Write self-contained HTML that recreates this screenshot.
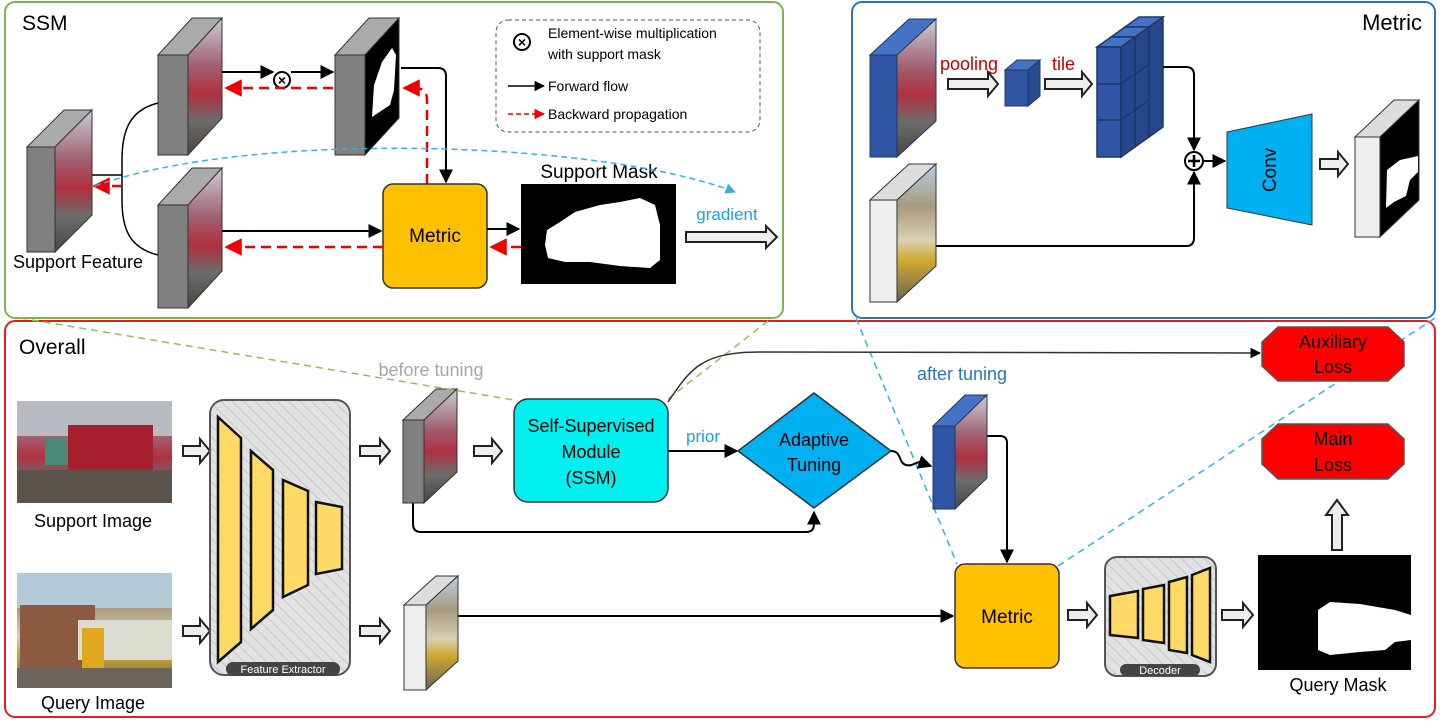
<!DOCTYPE html>
<html><head><meta charset="utf-8"><style>
html,body{margin:0;padding:0;background:#fff;}
svg{display:block;}
text{font-family:"Liberation Sans",sans-serif;}
</style></head><body>
<svg width="1440" height="721" viewBox="0 0 1440 721" xmlns="http://www.w3.org/2000/svg">
<defs>
<marker id="ab" viewBox="0 0 10 10" refX="9" refY="5" markerWidth="7" markerHeight="7" orient="auto-start-reverse"><path d="M0,0L10,5L0,10z" fill="#000"/></marker>
<marker id="ar" viewBox="0 0 10 10" refX="9" refY="5" markerWidth="7" markerHeight="7" orient="auto-start-reverse"><path d="M0,0L10,5L0,10z" fill="#e00"/></marker>
<marker id="abl" viewBox="0 0 10 10" refX="9" refY="5" markerWidth="7" markerHeight="7" orient="auto"><path d="M0,0L10,5L0,10z" fill="#3ab0e0"/></marker>
<pattern id="hatch" width="8" height="8" patternUnits="userSpaceOnUse" patternTransform="rotate(-45)"><rect width="8" height="8" fill="#e2e2e2"/><line x1="0" y1="0" x2="0" y2="8" stroke="#c8c8c8" stroke-width="2"/></pattern>
<linearGradient id="train" x1="0" y1="0" x2="0" y2="1"><stop offset="0" stop-color="#c9ced6"/><stop offset="0.35" stop-color="#a06070"/><stop offset="0.55" stop-color="#b03040"/><stop offset="0.75" stop-color="#6c6c6c"/><stop offset="1" stop-color="#4a4540"/></linearGradient>
<linearGradient id="query" x1="0" y1="0" x2="0" y2="1"><stop offset="0" stop-color="#b8cfe0"/><stop offset="0.3" stop-color="#a89a80"/><stop offset="0.55" stop-color="#d8d0b0"/><stop offset="0.7" stop-color="#d0a830"/><stop offset="1" stop-color="#6a6258"/></linearGradient>
</defs>

<rect x="5" y="2" width="778" height="316" rx="10" fill="none" stroke="#7fb24f" stroke-width="2"/>
<rect x="852" y="2" width="583" height="316" rx="10" fill="none" stroke="#2e75b6" stroke-width="2"/>
<rect x="5" y="321" width="1430" height="396" rx="10" fill="none" stroke="#e02020" stroke-width="2"/>
<text x="22" y="30" font-size="21">SSM</text>
<text x="1422" y="30" font-size="22" text-anchor="end">Metric</text>
<text x="19" y="354" font-size="21">Overall</text>

<!-- ===== SSM panel ===== -->
<rect x="496" y="20" width="264" height="112" rx="12" fill="none" stroke="#555" stroke-dasharray="4,3"/>
<circle cx="522" cy="42" r="8" fill="#fff" stroke="#000" stroke-width="2"/>
<text x="522" y="47" font-size="14" text-anchor="middle" font-weight="bold">×</text>
<text x="548" y="38" font-size="14">Element-wise multiplication</text>
<text x="548" y="59" font-size="14">with support mask</text>
<line x1="508" y1="86" x2="544" y2="86" stroke="#000" stroke-width="1.5" marker-end="url(#ab)"/>
<text x="548" y="91" font-size="14">Forward flow</text>
<line x1="508" y1="114" x2="544" y2="114" stroke="#e00" stroke-width="1.5" stroke-dasharray="5,3" marker-end="url(#ar)"/>
<text x="548" y="119" font-size="14">Backward propagation</text>

<path d="M92,175 L122,175 M158,103 C130,110 122,130 122,160 L122,200 C122,230 130,248 158,255" fill="none" stroke="#000" stroke-width="1.5"/>
<line x1="122" y1="186" x2="94" y2="186" stroke="#e00" stroke-width="2.5" stroke-dasharray="10,6" marker-end="url(#ar)"/>

<polygon points="27,147 55,147 92,110 64,110" fill="#aaa" stroke="#333"/>
<rect x="27" y="147" width="28" height="105" fill="#808080" stroke="#333"/>
<polygon points="55,147 92,110 92,215 55,252" fill="url(#train)" stroke="#333"/>
<text x="78" y="268" font-size="18" text-anchor="middle">Support Feature</text>

<polygon points="158,55 188,55 222,18 192,18" fill="#aaa" stroke="#333"/>
<rect x="158" y="55" width="30" height="100" fill="#808080" stroke="#333"/>
<polygon points="188,55 222,18 222,118 188,155" fill="url(#train)" stroke="#333"/>
<polygon points="158,205 188,205 222,168 192,168" fill="#aaa" stroke="#333"/>
<rect x="158" y="205" width="30" height="103" fill="#808080" stroke="#333"/>
<polygon points="188,205 222,168 222,271 188,308" fill="url(#train)" stroke="#333"/>
<polygon points="335,55 365,55 399,18 369,18" fill="#aaa" stroke="#333"/>
<rect x="335" y="55" width="30" height="100" fill="#808080" stroke="#333"/>
<polygon points="365,55 399,18 399,118 365,155" fill="#000" stroke="#333"/>
<path d="M372,117 L374,85 L382,62 L392,48 L396,55 L394,90 L390,105 Z" fill="#fff"/>

<line x1="222" y1="72" x2="273" y2="72" stroke="#000" stroke-width="2" marker-end="url(#ab)"/>
<line x1="291" y1="72" x2="333" y2="72" stroke="#000" stroke-width="2" marker-end="url(#ab)"/>
<circle cx="282" cy="80" r="8" fill="#fff" stroke="#000" stroke-width="2"/>
<text x="282" y="85" font-size="14" text-anchor="middle" font-weight="bold">×</text>
<line x1="333" y1="88" x2="226" y2="88" stroke="#e00" stroke-width="2.5" stroke-dasharray="10,6" marker-end="url(#ar)"/>
<path d="M401,68 L438,68 Q446,68 446,76 L446,182" fill="none" stroke="#000" stroke-width="2" marker-end="url(#ab)"/>
<path d="M427,184 L427,100 Q427,88 415,88 L404,88" fill="none" stroke="#e00" stroke-width="2.5" stroke-dasharray="10,6" marker-end="url(#ar)"/>

<rect x="383" y="184" width="104" height="104" rx="10" fill="#ffc000" stroke="#333" stroke-width="1.5"/>
<text x="435" y="242" font-size="19" text-anchor="middle">Metric</text>
<line x1="222" y1="231" x2="381" y2="231" stroke="#000" stroke-width="2" marker-end="url(#ab)"/>
<line x1="383" y1="247" x2="226" y2="247" stroke="#e00" stroke-width="2.5" stroke-dasharray="10,6" marker-end="url(#ar)"/>
<line x1="487" y1="229" x2="519" y2="229" stroke="#000" stroke-width="2" marker-end="url(#ab)"/>
<line x1="521" y1="247" x2="491" y2="247" stroke="#e00" stroke-width="2.5" stroke-dasharray="10,6" marker-end="url(#ar)"/>

<rect x="521" y="184" width="155" height="100" fill="#000"/>
<path d="M547,230 L560,222 L575,212 L600,205 L620,202 L640,198 L655,205 L660,225 L660,260 L650,268 L620,266 L590,262 L565,262 L548,258 L545,245 Z" fill="#fff"/>
<text x="599" y="178" font-size="19" text-anchor="middle">Support Mask</text>
<text x="727" y="220" font-size="17" text-anchor="middle" fill="#1aa0e0">gradient</text>
<path d="M686,232 L766,232 L766,226 L777,237 L766,248 L766,242 L686,242 Z" fill="#eee" stroke="#222" stroke-width="2"/>
<path d="M95,186 C250,130 600,140 735,192" fill="none" stroke="#3ab0e0" stroke-width="1.5" stroke-dasharray="6,4" marker-end="url(#abl)"/>

<!-- ===== Metric panel ===== -->
<polygon points="870,55 897,55 936,19 909,19" fill="#4472c4" stroke="#1f3864"/>
<rect x="870" y="55" width="27" height="102" fill="#2f55a4" stroke="#1f3864"/>
<polygon points="897,55 936,19 936,121 897,157" fill="url(#train)" stroke="#1f3864"/>
<text x="940" y="70" font-size="18" fill="#c00000">pooling</text>
<path d="M948,79 L988,79 L988,72 L998,84 L988,96 L988,89 L948,89 Z" fill="#eee" stroke="#222" stroke-width="2"/>
<polygon points="1005,70 1028,70 1040,60 1017,60" fill="#4472c4" stroke="#1f3864"/>
<rect x="1005" y="70" width="23" height="36" fill="#2f55a4" stroke="#1f3864"/>
<polygon points="1028,70 1040,60 1040,96 1028,106" fill="#2a4a90" stroke="#1f3864"/>
<text x="1052" y="70" font-size="18" fill="#c00000">tile</text>
<path d="M1045,79 L1082,79 L1082,72 L1092,84 L1082,96 L1082,89 L1045,89 Z" fill="#eee" stroke="#222" stroke-width="2"/>
<!-- tiled columns (back to front) -->
<g stroke="#1f3864" stroke-width="1.5">
<!-- k=2 -->
<polygon points="1125,27 1149,27 1163,17 1139,17" fill="#4472c4"/>
<rect x="1125" y="27" width="24" height="110" fill="#2f55a4"/>
<line x1="1125" y1="64" x2="1149" y2="64"/><line x1="1125" y1="100" x2="1149" y2="100"/>
<polygon points="1149,27 1163,17 1163,127 1149,137" fill="#26478c"/>
<!-- k=1 -->
<polygon points="1111,37 1135,37 1149,27 1125,27" fill="#4472c4"/>
<rect x="1111" y="37" width="24" height="110" fill="#2f55a4"/>
<line x1="1111" y1="74" x2="1135" y2="74"/><line x1="1111" y1="110" x2="1135" y2="110"/>
<polygon points="1135,37 1149,27 1149,137 1135,147" fill="#26478c"/>
<line x1="1135" y1="74" x2="1149" y2="64"/><line x1="1135" y1="110" x2="1149" y2="100"/>
<!-- k=0 -->
<polygon points="1097,47 1121,47 1135,37 1111,37" fill="#4472c4"/>
<rect x="1097" y="47" width="24" height="110" fill="#2f55a4"/>
<line x1="1097" y1="84" x2="1121" y2="84"/><line x1="1097" y1="120" x2="1121" y2="120"/>
<polygon points="1121,47 1135,37 1135,147 1121,157" fill="#26478c"/>
<line x1="1121" y1="84" x2="1135" y2="74"/><line x1="1121" y1="120" x2="1135" y2="110"/>
</g>
<!-- query cube -->
<polygon points="870,200 897,200 936,164 909,164" fill="#ddd" stroke="#333"/>
<rect x="870" y="200" width="27" height="102" fill="#eee" stroke="#333"/>
<polygon points="897,200 936,164 936,266 897,302" fill="url(#query)" stroke="#333"/>
<path d="M1163,67 L1186,67 Q1194,67 1194,75 L1194,150" fill="none" stroke="#000" stroke-width="2" marker-end="url(#ab)"/>
<path d="M936,246 L1186,246 Q1194,246 1194,238 L1194,172" fill="none" stroke="#000" stroke-width="2" marker-end="url(#ab)"/>
<circle cx="1194" cy="161" r="9" fill="#fff" stroke="#000" stroke-width="2"/>
<path d="M1188,161 L1200,161 M1194,155 L1194,167" stroke="#000" stroke-width="2.5"/>
<line x1="1203" y1="161" x2="1225" y2="161" stroke="#000" stroke-width="2" marker-end="url(#ab)"/>
<polygon points="1227,132 1312,114 1312,225 1227,208" fill="#00b0f0" stroke="#333"/>
<text transform="translate(1276,170) rotate(-90)" font-size="19" text-anchor="middle">Conv</text>
<path d="M1320,159 L1338,159 L1338,152 L1348,164 L1338,176 L1338,169 L1320,169 Z" fill="#eee" stroke="#222" stroke-width="2"/>
<polygon points="1355,137 1380,137 1419,100 1394,100" fill="#ddd" stroke="#333"/>
<rect x="1355" y="137" width="25" height="100" fill="#eee" stroke="#333"/>
<polygon points="1380,137 1419,100 1419,200 1380,237" fill="#000" stroke="#333"/>
<path d="M1386,208 L1387,170 L1400,160 L1418,156 L1418,172 L1410,180 L1406,196 L1394,202 Z" fill="#fff"/>

<!-- ===== Overall ===== -->
<rect x="17" y="401" width="155" height="102" fill="url(#train)"/>
<rect x="17" y="401" width="155" height="35" fill="#b8bcc2"/>
<rect x="45" y="437" width="55" height="28" fill="#4a8878"/>
<rect x="68" y="425" width="85" height="45" fill="#a82030"/>
<rect x="17" y="470" width="155" height="33" fill="#5a544c"/>
<text x="93" y="527" font-size="18" text-anchor="middle">Support Image</text>
<rect x="17" y="573" width="155" height="115" fill="url(#query)"/>
<rect x="17" y="573" width="155" height="35" fill="#b4cad8"/>
<rect x="20" y="605" width="75" height="65" fill="#8c5a40"/>
<rect x="78" y="620" width="94" height="40" fill="#dcdcd0"/>
<rect x="82" y="628" width="22" height="40" fill="#e0a820"/>
<rect x="17" y="668" width="155" height="20" fill="#6a645a"/>
<text x="93" y="709" font-size="18" text-anchor="middle">Query Image</text>

<path d="M183,446 L200,446 L200,439 L210,451 L200,463 L200,456 L183,456 Z" fill="#eee" stroke="#222" stroke-width="2"/>
<path d="M183,626 L200,626 L200,619 L210,631 L200,643 L200,636 L183,636 Z" fill="#eee" stroke="#222" stroke-width="2"/>

<rect x="210" y="400" width="140" height="275" rx="14" fill="url(#hatch)" stroke="#555" stroke-width="2"/>
<g fill="#ffd966" stroke="#111" stroke-width="2.5">
<polygon points="218,417 241,438 241,642 218,662"/>
<polygon points="251,451 273,470 273,610 251,629"/>
<polygon points="283,480 308,491 308,585 283,597"/>
<polygon points="316,502 342,507 342,569 316,574"/>
</g>
<rect x="226" y="662" width="114" height="14" rx="7" fill="#444"/>
<text x="283" y="673" font-size="11" fill="#fff" text-anchor="middle">Feature Extractor</text>

<path d="M360,446 L380,446 L380,439 L390,451 L380,463 L380,456 L360,456 Z" fill="#eee" stroke="#222" stroke-width="2"/>
<path d="M360,626 L380,626 L380,619 L390,631 L380,643 L380,636 L360,636 Z" fill="#eee" stroke="#222" stroke-width="2"/>

<path d="M413,503 L413,524 Q413,532 421,532 L806,532 Q814,532 814,524 L814,512" fill="none" stroke="#000" stroke-width="2" marker-end="url(#ab)"/>
<polygon points="403,420 424,420 457,389 436,389" fill="#aaa" stroke="#333"/>
<rect x="403" y="420" width="21" height="83" fill="#808080" stroke="#333"/>
<polygon points="424,420 457,389 457,472 424,503" fill="url(#train)" stroke="#333"/>
<line x1="458" y1="616" x2="953" y2="616" stroke="#000" stroke-width="2" marker-end="url(#ab)"/>
<polygon points="404,605 426,605 458,576 436,576" fill="#ddd" stroke="#333"/>
<rect x="404" y="605" width="22" height="85" fill="#eee" stroke="#333"/>
<polygon points="426,605 458,576 458,661 426,690" fill="url(#query)" stroke="#333"/>

<path d="M474,446 L492,446 L492,439 L502,451 L492,463 L492,456 L474,456 Z" fill="#eee" stroke="#222" stroke-width="2"/>

<line x1="20" y1="318" x2="514" y2="400" stroke="#8fbf5f" stroke-width="1.5" stroke-dasharray="7,5"/>
<line x1="668" y1="399" x2="772" y2="318" stroke="#8fbf5f" stroke-width="1.5" stroke-dasharray="7,5"/>
<line x1="856" y1="318" x2="957" y2="564" stroke="#3ab0e0" stroke-width="1.5" stroke-dasharray="7,5"/>
<line x1="1058" y1="566" x2="1435" y2="318" stroke="#3ab0e0" stroke-width="1.5" stroke-dasharray="7,5"/>

<text x="431" y="376" font-size="18" fill="#a6a6a6" text-anchor="middle">before tuning</text>
<text x="962" y="380" font-size="18" fill="#2e75b6" text-anchor="middle">after tuning</text>

<path d="M668,402 C690,370 700,352 760,352 L1260,353" fill="none" stroke="#333" stroke-width="1.5" marker-end="url(#ab)"/>
<rect x="514" y="399" width="154" height="103" rx="14" fill="#00f0f0" stroke="#333" stroke-width="1.5"/>
<text x="591" y="432" font-size="18" text-anchor="middle">Self-Supervised</text>
<text x="591" y="458" font-size="18" text-anchor="middle">Module</text>
<text x="591" y="484" font-size="18" text-anchor="middle">(SSM)</text>
<text x="703" y="442" font-size="17" fill="#1aa0e0" text-anchor="middle">prior</text>
<line x1="668" y1="451" x2="737" y2="451" stroke="#000" stroke-width="2" marker-end="url(#ab)"/>
<polygon points="814,393 891,451 814,508 738,451" fill="#00b0f0" stroke="#333" stroke-width="1.5"/>
<text x="814" y="446" font-size="18" text-anchor="middle">Adaptive</text>
<text x="814" y="471" font-size="18" text-anchor="middle">Tuning</text>
<path d="M891,451 C902,451 898,463 906,465 C914,467 916,460 922,463 L931,466" fill="none" stroke="#000" stroke-width="2" marker-end="url(#ab)"/>

<path d="M987,436 L1000,436 Q1007,436 1007,443 L1007,562" fill="none" stroke="#000" stroke-width="2" marker-end="url(#ab)"/>
<polygon points="933,426 955,426 987,395 965,395" fill="#4472c4" stroke="#1f3864"/>
<rect x="933" y="426" width="22" height="83" fill="#2f55a4" stroke="#1f3864"/>
<polygon points="955,426 987,395 987,478 955,509" fill="url(#train)" stroke="#1f3864"/>

<rect x="955" y="564" width="104" height="104" rx="10" fill="#ffc000" stroke="#333" stroke-width="1.5"/>
<text x="1007" y="623" font-size="19" text-anchor="middle">Metric</text>
<path d="M1068,610 L1087,610 L1087,603 L1097,615 L1087,627 L1087,620 L1068,620 Z" fill="#eee" stroke="#222" stroke-width="2"/>

<rect x="1105" y="557" width="111" height="119" rx="12" fill="url(#hatch)" stroke="#555" stroke-width="2"/>
<g fill="#ffd966" stroke="#111" stroke-width="2.5">
<polygon points="1110,596 1138,591 1138,638 1110,635"/>
<polygon points="1143,589 1164,585 1164,643 1143,640"/>
<polygon points="1169,582 1187,577 1187,653 1169,650"/>
<polygon points="1192,575 1210,568 1210,662 1192,655"/>
</g>
<rect x="1120" y="664" width="80" height="12" rx="6" fill="#444"/>
<text x="1160" y="674" font-size="11" fill="#fff" text-anchor="middle">Decoder</text>
<path d="M1222,610 L1243,610 L1243,603 L1253,615 L1243,627 L1243,620 L1222,620 Z" fill="#eee" stroke="#222" stroke-width="2"/>

<rect x="1258" y="555" width="153" height="115" fill="#000"/>
<path d="M1318,610 L1330,602 L1360,604 L1395,610 L1411,615 L1411,640 L1395,642 L1385,650 L1360,652 L1330,655 L1318,650 Z" fill="#fff"/>
<text x="1338" y="691" font-size="18" text-anchor="middle">Query Mask</text>
<path d="M1332,550 L1332,515 L1326,515 L1337,500 L1348,515 L1342,515 L1342,550 Z" fill="#eee" stroke="#222" stroke-width="2"/>

<polygon points="1262,342 1278,327 1388,327 1404,342 1404,366 1388,381 1278,381 1262,366" fill="#f00" stroke="#555" stroke-width="1.5"/>
<text x="1333" y="348" font-size="18" text-anchor="middle">Auxiliary</text>
<text x="1333" y="373" font-size="18" text-anchor="middle">Loss</text>
<polygon points="1262,439 1278,424 1388,424 1404,439 1404,464 1388,479 1278,479 1262,464" fill="#f00" stroke="#555" stroke-width="1.5"/>
<text x="1333" y="445" font-size="18" text-anchor="middle">Main</text>
<text x="1333" y="471" font-size="18" text-anchor="middle">Loss</text>
</svg>
</body></html>
